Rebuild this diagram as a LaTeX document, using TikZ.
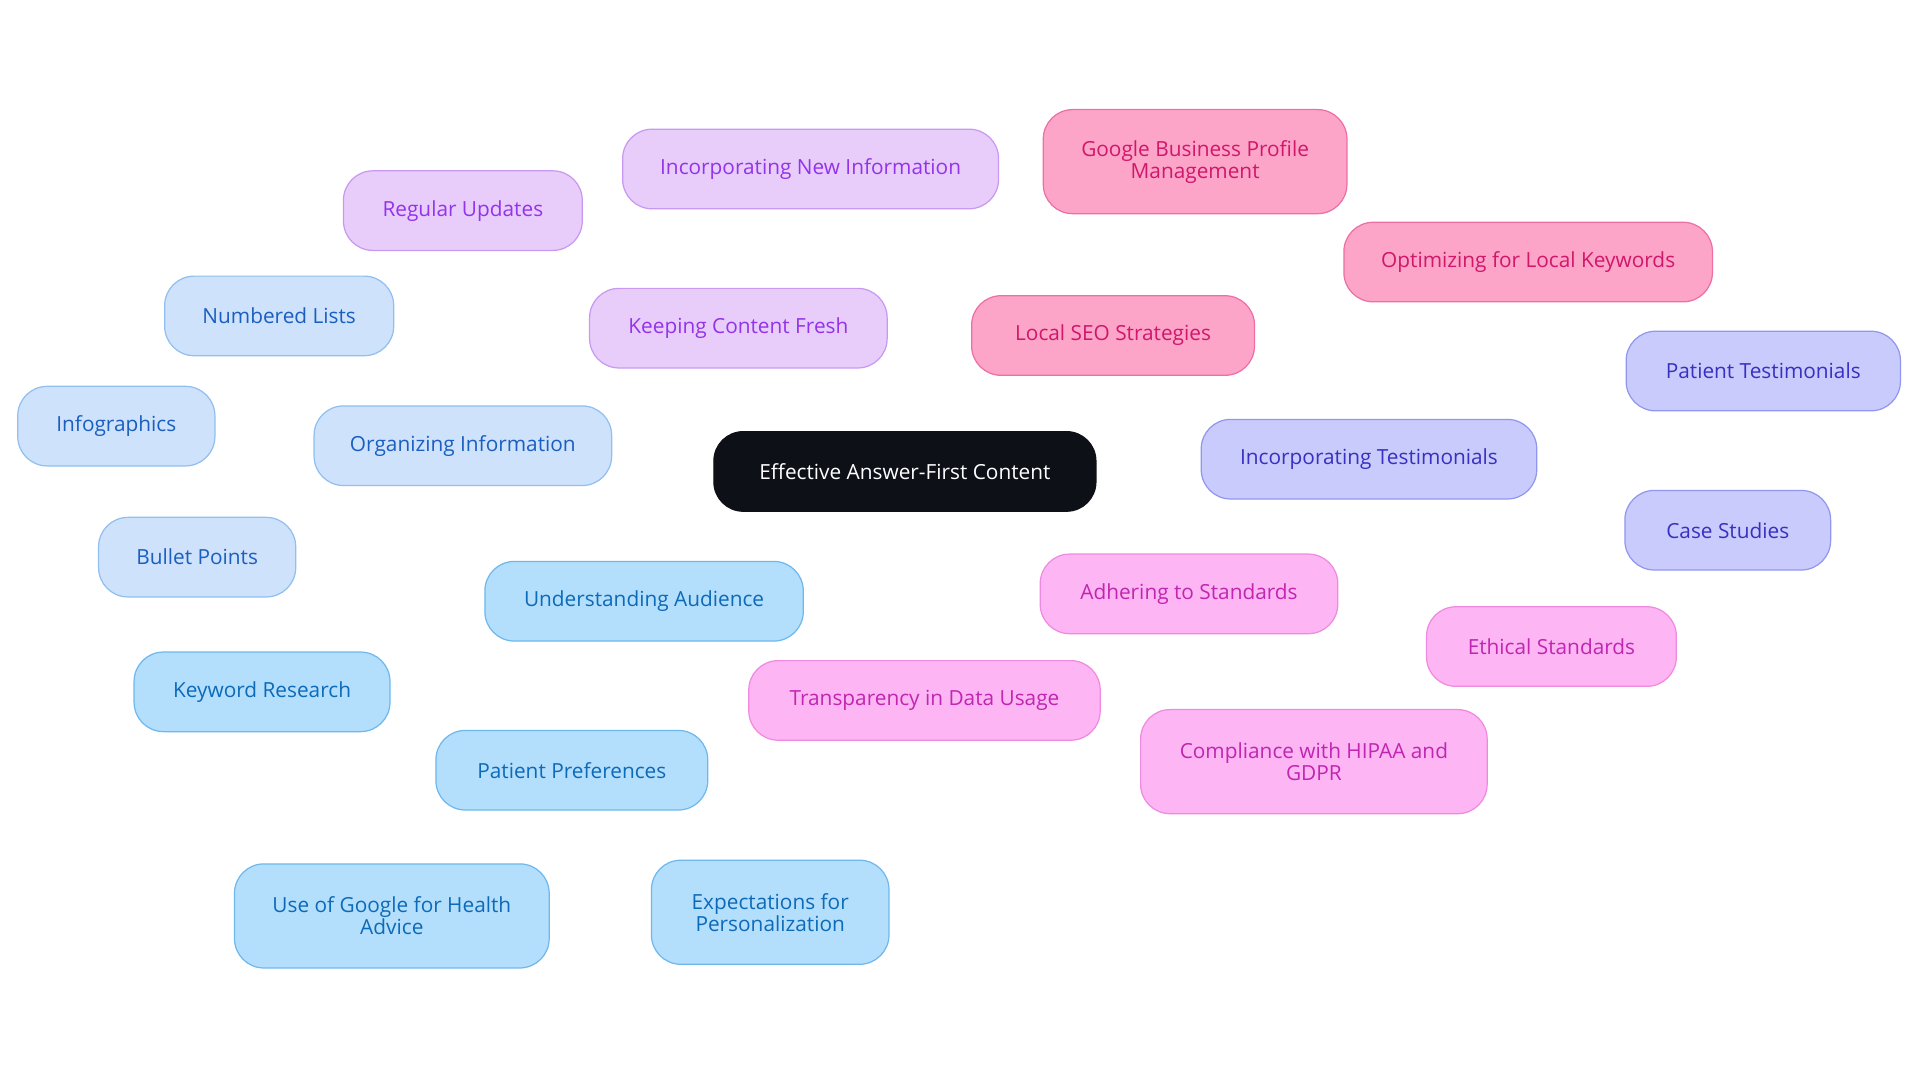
\documentclass[tikz,border=0pt]{standalone}
\usepackage{fontspec}
\setmainfont{Open Sans}
\usetikzlibrary{backgrounds}
\definecolor{bAf}{HTML}{CFE2FB}\definecolor{bAs}{HTML}{90BFF0}\definecolor{bAt}{HTML}{1A5FC0}
\definecolor{bBf}{HTML}{B3DFFC}\definecolor{bBs}{HTML}{6FB8EE}\definecolor{bBt}{HTML}{0D6AB8}
\definecolor{pf}{HTML}{E8CDFB}\definecolor{ps}{HTML}{C998F0}\definecolor{pt}{HTML}{9333EA}
\definecolor{rf}{HTML}{FDA4C9}\definecolor{rs}{HTML}{EE6FA3}\definecolor{rt}{HTML}{D0176A}
\definecolor{vf}{HTML}{C9CBFC}\definecolor{vs}{HTML}{9197EE}\definecolor{vt}{HTML}{3730C0}
\definecolor{mf}{HTML}{FDB5F4}\definecolor{ms}{HTML}{EF8AE0}\definecolor{mt}{HTML}{C026B0}
\definecolor{cen}{HTML}{0D1117}
\tikzset{
 bx/.style={rounded corners=24pt,line width=1pt,align=center,font=\fontsize{17}{18}\selectfont,inner sep=0pt,minimum height=65pt},
 gA/.style={bx,fill=bAf,draw=bAs,text=bAt},
 gB/.style={bx,fill=bBf,draw=bBs,text=bBt},
 gP/.style={bx,fill=pf,draw=ps,text=pt},
 gR/.style={bx,fill=rf,draw=rs,text=rt},
 gV/.style={bx,fill=vf,draw=vs,text=vt},
 gM/.style={bx,fill=mf,draw=ms,text=mt},
 ln/.style={line width=2.5pt},
}
\begin{document}
\begin{tikzpicture}[x=1pt,y=-1pt]
\useasboundingbox[fill=white] (0,0) rectangle (1568,884);
\node[bx,fill=cen,draw=cen,text=white,minimum width=312pt] (c) at (739,385) {Effective Answer-First Content};
\node[gA,minimum width=243pt] (oi) at (378,364) {Organizing Information};
\node[gA,minimum width=187pt] (nl) at (228,258) {Numbered Lists};
\node[gA,minimum width=161pt] (ig) at (95,348) {Infographics};
\node[gA,minimum width=161pt] (bp) at (161,455) {Bullet Points};
\node[gB,minimum width=260pt] (ua) at (526,491) {Understanding Audience};
\node[gB,minimum width=209pt] (kr) at (214,565) {Keyword Research};
\node[gB,minimum width=222pt] (pp) at (467,629) {Patient Preferences};
\node[gB,minimum width=257pt,minimum height=85pt] (ug) at (320,748) {Use of Google for Health\\Advice};
\node[gB,minimum width=194pt,minimum height=85pt] (ep) at (629,745) {Expectations for\\Personalization};
\node[gP,minimum width=243pt] (kf) at (603,268) {Keeping Content Fresh};
\node[gP,minimum width=195pt] (ru) at (378,172) {Regular Updates};
\node[gP,minimum width=307pt] (ni) at (662,138) {Incorporating New Information};
\node[gR,minimum width=231pt] (ls) at (909,274) {Local SEO Strategies};
\node[gR,minimum width=248pt,minimum height=85pt] (gb) at (976,132) {Google Business Profile\\Management};
\node[gR,minimum width=301pt] (ol) at (1248,214) {Optimizing for Local Keywords};
\node[gV,minimum width=274pt] (it) at (1118,375) {Incorporating Testimonials};
\node[gV,minimum width=224pt] (pt) at (1440,303) {Patient Testimonials};
\node[gV,minimum width=168pt] (cs) at (1411,433) {Case Studies};
\node[gM,minimum width=243pt] (as) at (971,485) {Adhering to Standards};
\node[gM,minimum width=204pt] (es) at (1267,528) {Ethical Standards};
\node[gM,minimum width=287pt] (td) at (755,572) {Transparency in Data Usage};
\node[gM,minimum width=283pt,minimum height=85pt] (hi) at (1073,622) {Compliance with HIPAA and\\GDPR};
\begin{scope}[on background layer]
\draw[ln,bAs] (c.center)--(oi.center) (oi.center)--(nl.center) (oi.center)--(ig.center) (oi.center)--(bp.center);
\draw[ln,bBs] (c.center)--(ua.center) (ua.center)--(kr.center) (ua.center)--(pp.center) (pp.center)--(ug.center) (pp.center)--(ep.center);
\draw[ln,ps] (c.center)--(kf.center) (kf.center)--(ru.center) (kf.center)--(ni.center);
\draw[ln,rs] (c.center)--(ls.center) (ls.center)--(gb.center) (ls.center)--(ol.center);
\draw[ln,vs] (c.center)--(it.center) (it.center)--(pt.center) (it.center)--(cs.center);
\draw[ln,ms] (c.center)--(as.center) (as.center)--(es.center) (as.center)--(td.center) (as.center)--(hi.center);
\end{scope}
\end{tikzpicture}
\end{document}
